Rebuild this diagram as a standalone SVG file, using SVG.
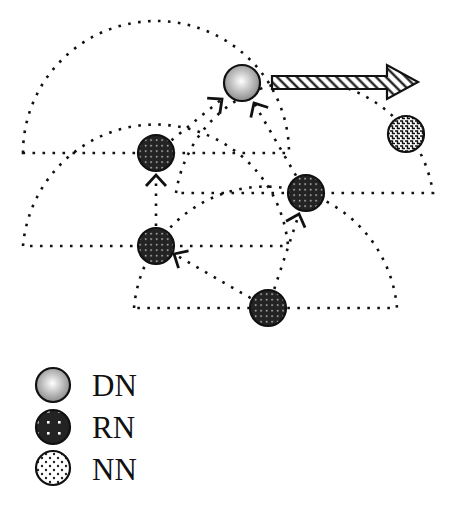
<svg xmlns="http://www.w3.org/2000/svg" width="455" height="515" viewBox="0 0 455 515">
<style>
.range{fill:none;stroke:#111;stroke-width:2.6;stroke-dasharray:2.6 7.4}
.conn{fill:none;stroke:#111;stroke-width:2.6;stroke-dasharray:2.6 7.4;marker-end:url(#chev)}
.node{stroke:#111;stroke-width:2.2}
.dn{fill:url(#gDN)}
.rn{fill:url(#pRN)}
.nn{fill:url(#pNN)}
.lab{font-family:"Liberation Serif","Times New Roman",serif;font-size:31px;fill:#111}
</style>
<defs>
<radialGradient id="gDN" cx="0.48" cy="0.45" r="0.6">
<stop offset="0" stop-color="#ffffff"/>
<stop offset="0.35" stop-color="#d2d2d2"/>
<stop offset="1" stop-color="#808080"/>
</radialGradient>
<pattern id="pRN" width="5.5" height="5.5" patternUnits="userSpaceOnUse">
<rect width="5.5" height="5.5" fill="#232323"/>
<rect x="2" y="2" width="1.3" height="1.3" fill="#fff"/>
</pattern>
<pattern id="pRNL" width="11" height="11" patternUnits="userSpaceOnUse">
<rect width="11" height="11" fill="#232323"/>
<rect x="3" y="3" width="2.6" height="2.6" fill="#fff"/>
</pattern>
<pattern id="pNN" width="5" height="5" patternUnits="userSpaceOnUse">
<rect width="5" height="5" fill="#fff"/>
<path d="M0 1 H2.5 V3.5 H5" fill="none" stroke="#111" stroke-width="1.4"/>
</pattern>
<pattern id="pNNL" width="8" height="8" patternUnits="userSpaceOnUse">
<rect width="8" height="8" fill="#fff"/>
<circle cx="2" cy="2" r="1.2" fill="#222"/>
<circle cx="6" cy="6" r="1.2" fill="#222"/>
</pattern>
<pattern id="hatch" width="7" height="7" patternUnits="userSpaceOnUse" patternTransform="rotate(-45)">
<rect width="7" height="7" fill="#fff"/>
<line x1="1.5" y1="0" x2="1.5" y2="7" stroke="#111" stroke-width="2.2"/>
</pattern>
<marker id="chev" markerUnits="userSpaceOnUse" viewBox="-16 -14 20 28" markerWidth="20" markerHeight="28" refX="0" refY="0" orient="auto">
<path d="M-11 -10 L0 0 L-11 10" fill="none" stroke="#111" stroke-width="2.8" stroke-linejoin="miter"/>
</marker>
</defs>

<g id="ranges">
<path class="range" d="M23 153 A133 132 0 0 1 289 153 Z"/>
<path class="range" d="M176 193 A130 132 0 0 1 433 193 Z"/>
<path class="range" d="M23 246 A133 133 0 0 1 288 246 Z"/>
<path class="range" d="M134 308 A132 133 0 0 1 397 308 Z"/>
</g>

<g id="connectors">
<line class="conn" x1="156" y1="246" x2="156" y2="175"/>
<line class="conn" x1="156" y1="153" x2="222" y2="99"/>
<line class="conn" x1="306" y1="193" x2="254" y2="103"/>
<line class="conn" x1="268" y1="308" x2="299" y2="214"/>
<line class="conn" x1="268" y1="308" x2="174" y2="254"/>
</g>

<g id="movement-arrow">
<path d="M272 76 H387 V65 L418 82 L387 99 V89 H272 Z" fill="url(#hatch)" stroke="#111" stroke-width="2.2" stroke-linejoin="miter"/>
</g>

<g id="node-dn"><circle class="node dn" cx="242" cy="83" r="18"/></g>
<g id="node-nn"><circle class="node nn" cx="406" cy="134" r="18"/></g>
<g id="node-rn1"><circle class="node rn" cx="156" cy="153" r="18"/></g>
<g id="node-rn2"><circle class="node rn" cx="306" cy="193" r="18"/></g>
<g id="node-rn3"><circle class="node rn" cx="156" cy="246" r="18"/></g>
<g id="node-rn4"><circle class="node rn" cx="268" cy="308" r="18"/></g>

<g id="legend">
<g id="legend-dn"><circle class="node dn" cx="53" cy="385" r="17"/><text class="lab" x="92" y="396">DN</text></g>
<g id="legend-rn"><circle class="node" fill="url(#pRNL)" cx="53" cy="427" r="17"/><text class="lab" x="92" y="438">RN</text></g>
<g id="legend-nn"><circle class="node" fill="url(#pNNL)" cx="53" cy="468" r="17"/><text class="lab" x="92" y="480">NN</text></g>
</g>
</svg>
